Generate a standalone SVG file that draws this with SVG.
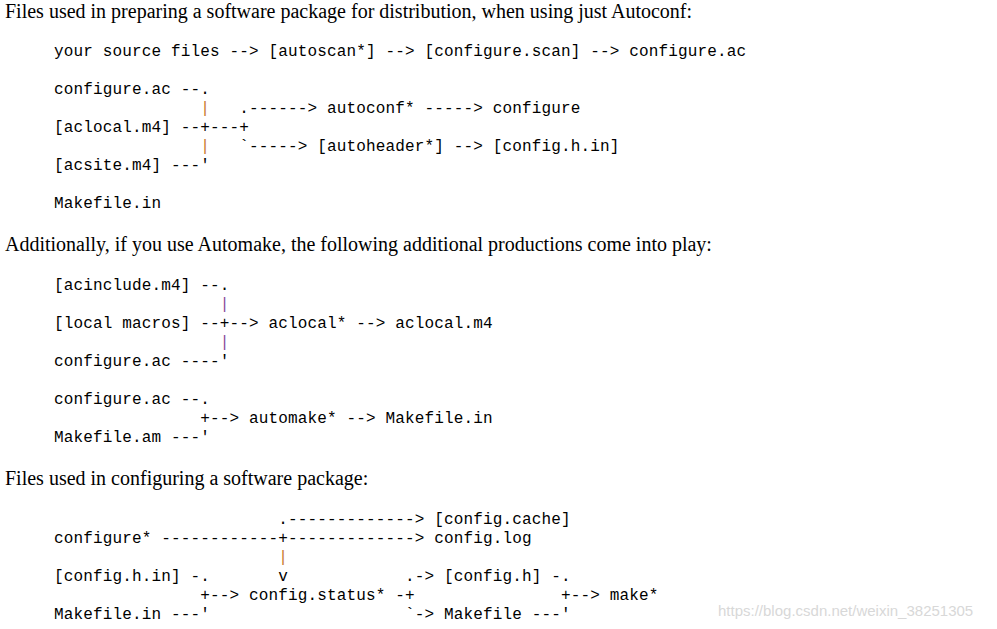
<svg xmlns="http://www.w3.org/2000/svg" width="997" height="629" viewBox="0 0 997 629">
<style>
.p{font-family:"Liberation Serif","Times New Roman",serif;font-size:20px;fill:#000}
.m{font-family:"Liberation Mono","Courier New",monospace;font-size:16px;letter-spacing:0.15px;fill:#000;white-space:pre}
.o{fill:#c8782a}.v{fill:#8a4a9a}
.w{font-family:"Liberation Sans",Arial,sans-serif;font-size:15px;fill:#d8d8d8}
</style>
<rect width="997" height="629" fill="#fff"/>
<g id="intro1"><text class="p" x="5" y="18">Files used in preparing a software package for distribution, when using just Autoconf:</text></g>
<g id="block1" class="m" xml:space="preserve">
<text class="m" x="54" y="56">your source files --&gt; [autoscan*] --&gt; [configure.scan] --&gt; configure.ac</text>
<text class="m" x="54" y="94">configure.ac --.</text>
<text class="m" x="54" y="113">               <tspan class="o">|</tspan>   .------&gt; autoconf* -----&gt; configure</text>
<text class="m" x="54" y="132">[aclocal.m4] --+---+</text>
<text class="m" x="54" y="151">               <tspan class="o">|</tspan>   `-----&gt; [autoheader*] --&gt; [config.h.in]</text>
<text class="m" x="54" y="170">[acsite.m4] ---'</text>
<text class="m" x="54" y="208">Makefile.in</text>
</g>
<g id="intro2"><text class="p" x="5" y="251">Additionally, if you use Automake, the following additional productions come into play:</text></g>
<g id="block2" xml:space="preserve">
<text class="m" x="54" y="290">[acinclude.m4] --.</text>
<text class="m" x="54" y="309">                 <tspan class="v">|</tspan></text>
<text class="m" x="54" y="328">[local macros] --+--&gt; aclocal* --&gt; aclocal.m4</text>
<text class="m" x="54" y="347">                 <tspan class="v">|</tspan></text>
<text class="m" x="54" y="366">configure.ac ----'</text>
<text class="m" x="54" y="404">configure.ac --.</text>
<text class="m" x="54" y="423">               +--&gt; automake* --&gt; Makefile.in</text>
<text class="m" x="54" y="442">Makefile.am ---'</text>
</g>
<g id="intro3"><text class="p" x="5" y="485">Files used in configuring a software package:</text></g>
<g id="block3" xml:space="preserve">
<text class="m" x="54" y="524">                       .-------------&gt; [config.cache]</text>
<text class="m" x="54" y="543">configure* ------------+-------------&gt; config.log</text>
<text class="m" x="54" y="562">                       <tspan class="o">|</tspan></text>
<text class="m" x="54" y="581">[config.h.in] -.       v            .-&gt; [config.h] -.</text>
<text class="m" x="54" y="600">               +--&gt; config.status* -+               +--&gt; make*</text>
<text class="m" x="54" y="619">Makefile.in ---'                    `-&gt; Makefile ---'</text>
</g>
<text class="w" x="718" y="616">https://blog.csdn.net/weixin_38251305</text>
</svg>
